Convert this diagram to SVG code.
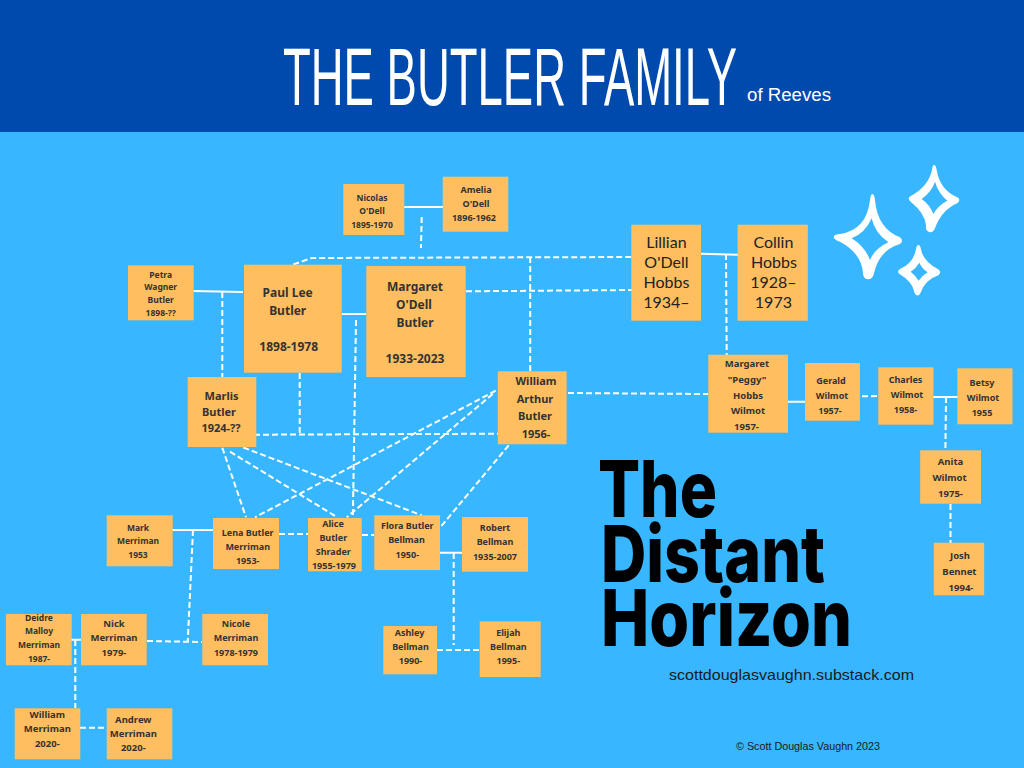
<svg xmlns="http://www.w3.org/2000/svg" width="1024" height="768" viewBox="0 0 1024 768">
<style>
.box{fill:#ffbe5f}
.n text{font-family:"Noto Sans","Open Sans",sans-serif;font-weight:700;fill:#333;text-anchor:middle}
.n text.light{font-family:"Lato","Noto Sans",sans-serif;font-weight:400;fill:#222;font-size:16px}
.s85{font-size:8.5px}.s9{font-size:9px}.s95{font-size:9.5px}.s10{font-size:10px}.s11{font-size:11px}.s12{font-size:12px}
#connectors path{fill:none;stroke:#fff;stroke-width:2}
#connectors .d{stroke-dasharray:6 3}
.h{font-family:"Inter","Lato",sans-serif;font-weight:800;font-size:78px;fill:#000}
.a{font-family:"Liberation Sans",Arial,sans-serif}
</style>
<rect width="1024" height="768" fill="#38b6ff"/>
<rect width="1024" height="132" fill="#004aad"/>
<text class="a" x="283" y="105" font-size="81" fill="#fff" textLength="454" lengthAdjust="spacingAndGlyphs">THE BUTLER FAMILY</text>
<text class="a" x="747" y="100.500" font-size="17.500" fill="#fff" textLength="84" lengthAdjust="spacingAndGlyphs">of Reeves</text>
<g id="connectors">
<path d="M404 207H443M193 291L243 292M342 314H366M701 253.700L738 254.700M788 401.700H805M933 397H958M172 530H213M440 552.700H462M71 639.700H81"/>
<path class="d" d="M421.700 217L421 248M293.300 264.500L311.700 258L632 257M466 291.300L632 290M530.200 257V372M222.300 292V377M299.700 373V434.700M254 434.700L504 433.700M356 320L352 572M495.700 390.700L255 517.300M492.700 394L346.700 517.300M508.700 445.300L440.300 527.300M222.300 447.700L246 517.300M230 451.700L337.300 517.300M243.300 447.500L421.700 515.300M279 534H308M362 535H374M193 530L187.700 642.700M147 641L202 642M75.300 640V708M80 727.700H107M453.700 553V645M437 650H480M568 393L708 394M726 254L726.700 355M862 396.300L878 396M946 397L945.400 450M950.500 504V543"/>
</g>
<g id="nicolas" class="n"><rect class="box" x="343.300" y="184" width="61" height="51"/><text class="s85"><tspan x="372" y="201">Nicolas</tspan><tspan x="372" y="214">O'Dell</tspan><tspan x="372" y="228">1895-1970</tspan></text></g>
<g id="amelia" class="n"><rect class="box" x="442.700" y="176.700" width="65.600" height="55"/><text class="s9"><tspan x="476" y="192.700">Amelia</tspan><tspan x="476" y="206.700">O'Dell</tspan><tspan x="474" y="220.700">1896-1962</tspan></text></g>
<g id="petra" class="n"><rect class="box" x="128" y="265.300" width="65.700" height="55"/><text class="s85"><tspan x="160.700" y="277.700">Petra</tspan><tspan x="160.700" y="290">Wagner</tspan><tspan x="160.700" y="302.700">Butler</tspan><tspan x="160.700" y="315.700">1898-??</tspan></text></g>
<g id="paul" class="n"><rect class="box" x="244" y="264.700" width="97.700" height="108"/><text class="s12"><tspan x="287.700" y="296.700">Paul Lee</tspan><tspan x="287.700" y="314.700">Butler</tspan><tspan x="288.700" y="350.700">1898-1978</tspan></text></g>
<g id="margaret" class="n"><rect class="box" x="366.300" y="266" width="99.400" height="111"/><text class="s12"><tspan x="415" y="291">Margaret</tspan><tspan x="414" y="309">O'Dell</tspan><tspan x="415" y="327">Butler</tspan><tspan x="415" y="363">1933-2023</tspan></text></g>
<g id="marlis" class="n"><rect class="box" x="187.700" y="377" width="68.600" height="70"/><text class="s11"><tspan x="221.500" y="400">Marlis</tspan><tspan x="219" y="416">Butler</tspan><tspan x="221" y="432">1924-??</tspan></text></g>
<g id="william" class="n"><rect class="box" x="497.800" y="371.300" width="68.800" height="73"/><text class="s11"><tspan x="536" y="385">William</tspan><tspan x="535" y="402.700">Arthur</tspan><tspan x="535" y="420">Butler</tspan><tspan x="536" y="437.700">1956-</tspan></text></g>
<g id="lillian" class="n"><rect class="box" x="631.300" y="224.700" width="69.700" height="96"/><text class="light"><tspan x="666.400" y="248.300">Lillian</tspan><tspan x="666.400" y="268.300">O'Dell</tspan><tspan x="666.400" y="288.300">Hobbs</tspan><tspan x="666.400" y="308.300">1934–</tspan></text></g>
<g id="collin" class="n"><rect class="box" x="737.600" y="224.700" width="70.200" height="96"/><text class="light"><tspan x="773.400" y="248.300">Collin</tspan><tspan x="774" y="268.300">Hobbs</tspan><tspan x="773.400" y="288.300">1928–</tspan><tspan x="773.400" y="308.300">1973</tspan></text></g>
<g id="peggy" class="n"><rect class="box" x="708.300" y="354.700" width="79.700" height="78"/><text class="s95"><tspan x="747" y="366.700">Margaret</tspan><tspan x="747" y="383.300">"Peggy"</tspan><tspan x="748" y="399">Hobbs</tspan><tspan x="748" y="414">Wilmot</tspan><tspan x="746.500" y="430">1957-</tspan></text></g>
<g id="gerald" class="n"><rect class="box" x="805" y="363" width="54.900" height="57.700"/><text class="s9"><tspan x="831" y="384">Gerald</tspan><tspan x="832" y="399.300">Wilmot</tspan><tspan x="830" y="414">1957-</tspan></text></g>
<g id="charles" class="n"><rect class="box" x="878.300" y="367.300" width="55.200" height="57.400"/><text class="s9"><tspan x="905.500" y="382.700">Charles</tspan><tspan x="907" y="398.300">Wilmot</tspan><tspan x="905.500" y="413">1958-</tspan></text></g>
<g id="betsy" class="n"><rect class="box" x="957.300" y="368.300" width="55.200" height="56"/><text class="s9"><tspan x="982" y="386">Betsy</tspan><tspan x="983" y="401">Wilmot</tspan><tspan x="982" y="416">1955</tspan></text></g>
<g id="anita" class="n"><rect class="box" x="920.200" y="450.300" width="60.800" height="53.400"/><text class="s95"><tspan x="950.500" y="465">Anita</tspan><tspan x="949.500" y="481">Wilmot</tspan><tspan x="950.500" y="497">1975-</tspan></text></g>
<g id="josh" class="n"><rect class="box" x="933.800" y="542.700" width="50.400" height="52.600"/><text class="s95"><tspan x="960" y="559">Josh</tspan><tspan x="959.400" y="575">Bennet</tspan><tspan x="961" y="591">1994-</tspan></text></g>
<g id="mark" class="n"><rect class="box" x="106.700" y="515.300" width="66" height="51"/><text class="s85"><tspan x="138" y="531">Mark</tspan><tspan x="138" y="544">Merriman</tspan><tspan x="138" y="558">1953</tspan></text></g>
<g id="lena" class="n"><rect class="box" x="213" y="518" width="66" height="51"/><text class="s9"><tspan x="247.700" y="535.700">Lena Butler</tspan><tspan x="247.700" y="549.700">Merriman</tspan><tspan x="247.700" y="563.700">1953-</tspan></text></g>
<g id="alice" class="n"><rect class="box" x="308" y="518" width="53.700" height="53.300"/><text class="s9"><tspan x="333" y="526.700">Alice</tspan><tspan x="333.300" y="540.700">Butler</tspan><tspan x="333.300" y="554.700">Shrader</tspan><tspan x="334" y="568.700">1955-1979</tspan></text></g>
<g id="flora" class="n"><rect class="box" x="374.300" y="515.300" width="65.700" height="54.700"/><text class="s9"><tspan x="407.300" y="528.700">Flora Butler</tspan><tspan x="406.500" y="543.300">Bellman</tspan><tspan x="407.300" y="557.700">1950-</tspan></text></g>
<g id="robert" class="n"><rect class="box" x="462" y="517" width="66" height="54.700"/><text class="s9"><tspan x="495" y="530.700">Robert</tspan><tspan x="495" y="544.700">Bellman</tspan><tspan x="495" y="559.700">1935-2007</tspan></text></g>
<g id="ashley" class="n"><rect class="box" x="383.300" y="626" width="53.700" height="48.300"/><text class="s9"><tspan x="409.500" y="636">Ashley</tspan><tspan x="410.500" y="649.700">Bellman</tspan><tspan x="410.500" y="664">1990-</tspan></text></g>
<g id="elijah" class="n"><rect class="box" x="479.700" y="621.300" width="61" height="55.700"/><text class="s9"><tspan x="508.300" y="636">Elijah</tspan><tspan x="508.300" y="649.700">Bellman</tspan><tspan x="508.300" y="664">1995-</tspan></text></g>
<g id="deidre" class="n"><rect class="box" x="6" y="614" width="65.700" height="51.300"/><text class="s85"><tspan x="39" y="620.700">Deidre</tspan><tspan x="39" y="634">Malloy</tspan><tspan x="39" y="648">Merriman</tspan><tspan x="39" y="662">1987-</tspan></text></g>
<g id="nick" class="n"><rect class="box" x="81" y="614" width="65.700" height="51.300"/><text class="s95"><tspan x="114" y="626.700">Nick</tspan><tspan x="114" y="640.700">Merriman</tspan><tspan x="114" y="656">1979-</tspan></text></g>
<g id="nicole" class="n"><rect class="box" x="202.300" y="614" width="65.700" height="51.300"/><text class="s9"><tspan x="236" y="626.700">Nicole</tspan><tspan x="236" y="640.700">Merriman</tspan><tspan x="236" y="656">1978-1979</tspan></text></g>
<g id="william-merriman" class="n"><rect class="box" x="14.700" y="708.300" width="65.600" height="51"/><text class="s95"><tspan x="47.300" y="717.700">William</tspan><tspan x="47.300" y="731.700">Merriman</tspan><tspan x="47.300" y="746.700">2020-</tspan></text></g>
<g id="andrew" class="n"><rect class="box" x="106.700" y="708.300" width="65.600" height="51"/><text class="s95"><tspan x="133.300" y="722.700">Andrew</tspan><tspan x="133.300" y="736.700">Merriman</tspan><tspan x="133.300" y="750.700">2020-</tspan></text></g>
<g transform="translate(820 150) scale(.3333)" fill="#fff" fill-rule="evenodd">
<path d="M157 132Q163 132 165 150Q172 235 240 262Q252 272 240 282Q178 300 162 370Q158 388 145 388Q130 388 129 370Q125 310 60 275Q38 268 42 258Q45 253 60 252Q140 240 150 150Q152 132 157 132ZM155 205Q165 250 205 277Q165 295 150 330Q135 290 95 265Q135 250 155 205Z"/>
<path d="M342 45Q348 45 350 60Q360 120 412 142Q424 150 412 160Q365 180 345 235Q338 250 328 246Q316 244 318 225Q315 190 272 155Q260 145 272 138Q325 110 336 60Q338 45 342 45ZM345 95Q355 130 382 152Q355 165 340 192Q330 165 305 147Q335 125 345 95Z"/>
<path d="M295 285Q301 285 303 298Q310 335 355 358Q366 367 355 376Q315 390 302 428Q296 440 288 435Q283 432 281 420Q275 395 240 373Q228 365 240 357Q280 340 288 298Q290 285 295 285ZM298 338Q305 355 323 367Q305 378 296 392Q288 378 272 365Q288 355 298 338Z"/>
</g>
<text class="h" x="598" y="517" textLength="119" lengthAdjust="spacingAndGlyphs">The</text>
<text class="h" x="601" y="582" textLength="224" lengthAdjust="spacingAndGlyphs">Distant</text>
<text class="h" x="601" y="646" textLength="251" lengthAdjust="spacingAndGlyphs">Horizon</text>
<text class="a" x="669" y="680" font-size="15" fill="#1a1a1a" textLength="245" lengthAdjust="spacingAndGlyphs">scottdouglasvaughn.substack.com</text>
<text class="a" x="736" y="750" font-size="10.500" fill="#1a1a1a" textLength="144" lengthAdjust="spacingAndGlyphs">© Scott Douglas Vaughn 2023</text>
</svg>
